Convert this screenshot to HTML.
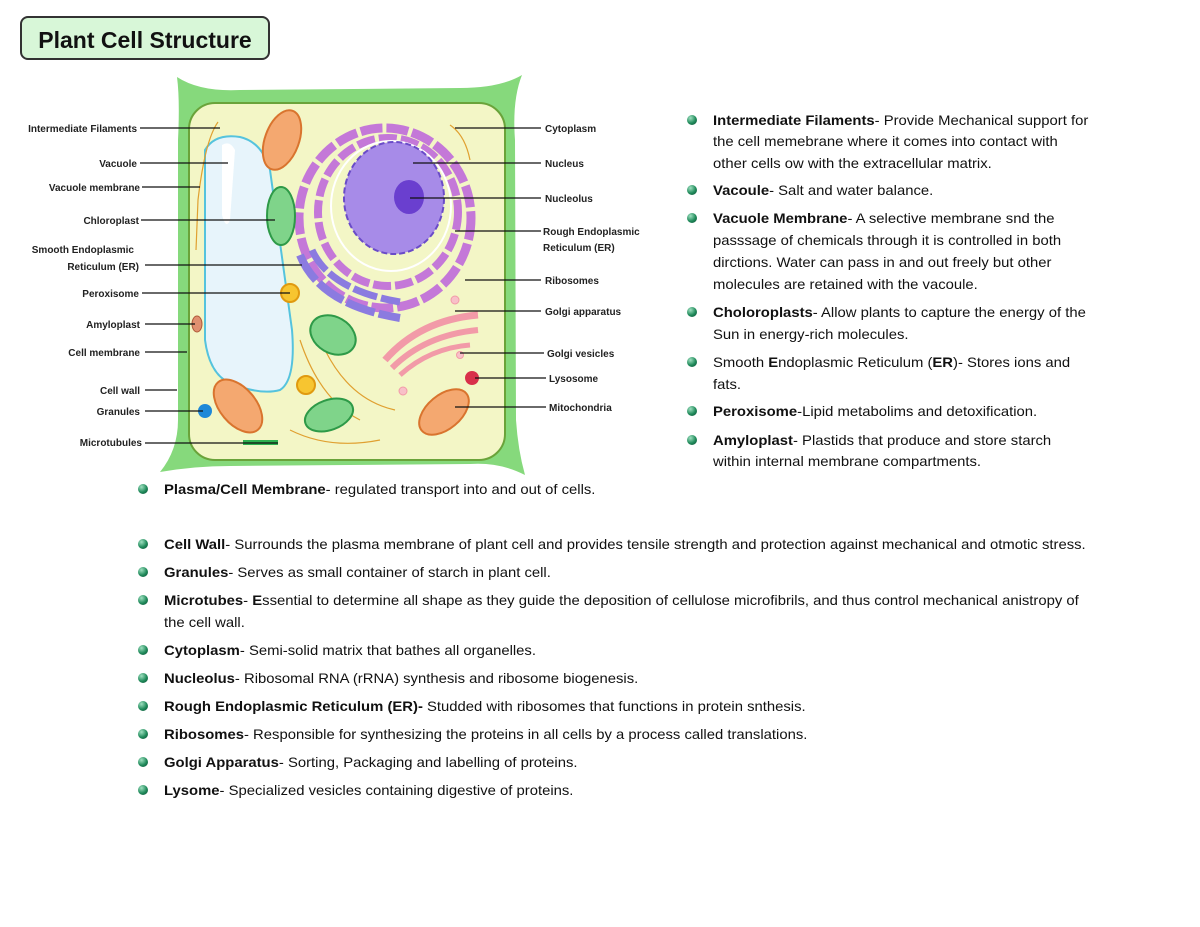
<!DOCTYPE html>
<html><head><meta charset="utf-8"><style>
body{margin:0;width:1200px;height:927px;background:#fff;position:relative;overflow:hidden;font-family:"Liberation Sans",sans-serif;color:#111}
.t{position:absolute;font-size:14px;line-height:16px;white-space:nowrap;transform:scaleX(1.06);transform-origin:0 0}
.b{position:absolute;width:10px;height:10px;border-radius:50%;background:radial-gradient(circle at 35% 30%,#9fe0c0,#1f8a5a 55%,#0d4a33)}
.title{position:absolute;left:20px;top:16px;width:250px;height:44px;border:2px solid #333;border-radius:8px;background:#d8f7d8;font-weight:bold;font-size:23px;line-height:44px;text-align:center;box-sizing:border-box}
svg text{font-family:"Liberation Sans",sans-serif;font-weight:bold;font-size:10px;fill:#222}
</style></head><body>
<div class="title">Plant Cell Structure</div>
<svg width="1200" height="927" style="position:absolute;left:0;top:0">
<path d="M177 77 Q200 92 240 90 L460 88 Q500 88 522 75 Q512 100 515 140 L516 420 Q518 450 525 475 Q500 462 470 464 L230 466 Q195 466 160 472 Q178 450 178 420 L178 140 Q180 100 177 77Z" fill="#86d97c"/>
<rect x="189" y="103" width="316" height="357" rx="26" fill="#f3f6c6" stroke="#6aa33a" stroke-width="2"/>
<path d="M205 150 Q215 133 240 137 Q262 142 270 170 L292 330 Q296 380 280 390 Q262 395 235 385 Q210 378 205 340 Z" fill="#e7f4fb" stroke="#55c3dd" stroke-width="2"/>
<path d="M222 145 Q230 140 235 150 L230 220 Q226 230 222 215Z" fill="#fff"/>
<path d="M218 122 Q205 140 198 200 L196 250" stroke="#e0a030" fill="none" stroke-width="1.2"/>
<path d="M450 125 Q465 135 470 160" stroke="#e0a030" fill="none" stroke-width="1.2"/>
<path d="M300 340 Q320 400 360 420" stroke="#e0a030" fill="none" stroke-width="1.2"/>
<path d="M325 350 Q350 400 395 410" stroke="#e0a030" fill="none" stroke-width="1.2"/>
<path d="M290 430 Q330 450 380 440" stroke="#e0a030" fill="none" stroke-width="1.2"/>
<ellipse cx="385" cy="218" rx="86" ry="90" fill="none" stroke="#c478d8" stroke-width="9" stroke-dasharray="22 4"/>
<ellipse cx="388" cy="212" rx="70" ry="74" fill="none" stroke="#c478d8" stroke-width="8" stroke-dasharray="18 4"/>
<ellipse cx="391" cy="206" rx="60" ry="65" fill="none" stroke="#fff" stroke-width="2"/>
<ellipse cx="394" cy="198" rx="50" ry="56" fill="#a78be8" stroke="#6a4bc8" stroke-width="2" stroke-dasharray="6 3"/>
<ellipse cx="409" cy="197" rx="15" ry="17" fill="#6a3fcf"/>
<path d="M300 255 Q320 305 400 318" stroke="#8b7be0" stroke-width="8" fill="none" stroke-dasharray="30 4"/>
<path d="M312 250 Q330 290 400 302" stroke="#8b7be0" stroke-width="7" fill="none" stroke-dasharray="25 4"/>
<path d="M385 360 Q420 320 478 315" stroke="#f29aa8" stroke-width="7" fill="none"/>
<path d="M392 368 Q425 335 478 330" stroke="#f29aa8" stroke-width="6" fill="none"/>
<path d="M400 375 Q430 348 470 345" stroke="#f29aa8" stroke-width="5" fill="none"/>
<circle cx="455" cy="300" r="4" fill="#f8c0c8" stroke="#f29aa8"/>
<circle cx="460" cy="355" r="3.5" fill="#f8c0c8" stroke="#f29aa8"/>
<circle cx="403" cy="391" r="4" fill="#f8c0c8" stroke="#f29aa8"/>
<circle cx="472" cy="378" r="7" fill="#d8304a"/>
<ellipse cx="282" cy="140" rx="17" ry="31" transform="rotate(20 282 140)" fill="#f4a870" stroke="#d9742e" stroke-width="2"/>
<ellipse cx="238" cy="406" rx="18" ry="31" transform="rotate(-40 238 406)" fill="#f4a870" stroke="#d9742e" stroke-width="2"/>
<ellipse cx="444" cy="412" rx="17" ry="29" transform="rotate(50 444 412)" fill="#f4a870" stroke="#d9742e" stroke-width="2"/>
<ellipse cx="281" cy="216" rx="14" ry="29" fill="#7fd48a" stroke="#2e9a48" stroke-width="2"/>
<ellipse cx="333" cy="335" rx="24" ry="18" transform="rotate(30 333 335)" fill="#7fd48a" stroke="#2e9a48" stroke-width="2"/>
<ellipse cx="329" cy="415" rx="25" ry="15" transform="rotate(-20 329 415)" fill="#7fd48a" stroke="#2e9a48" stroke-width="2"/>
<circle cx="290" cy="293" r="9" fill="#f7c530" stroke="#e09a10" stroke-width="2"/>
<circle cx="306" cy="385" r="9" fill="#f7c530" stroke="#e09a10" stroke-width="2"/>
<ellipse cx="197" cy="324" rx="5" ry="8" fill="#e09070" stroke="#b05a3a"/>
<circle cx="205" cy="411" r="7" fill="#1e88d8"/>
<rect x="243" y="440" width="35" height="5" fill="#2fb050"/>
<g stroke="#111" stroke-width="1.3">
<line x1="140" y1="128" x2="220" y2="128"/><line x1="140" y1="163" x2="228" y2="163"/>
<line x1="142" y1="187" x2="200" y2="187"/><line x1="141" y1="220" x2="275" y2="220"/>
<line x1="145" y1="265" x2="302" y2="265"/><line x1="142" y1="293" x2="290" y2="293"/>
<line x1="145" y1="324" x2="195" y2="324"/><line x1="145" y1="352" x2="187" y2="352"/>
<line x1="145" y1="390" x2="177" y2="390"/><line x1="145" y1="411" x2="203" y2="411"/>
<line x1="145" y1="443" x2="278" y2="443"/>
<line x1="455" y1="128" x2="541" y2="128"/><line x1="413" y1="163" x2="541" y2="163"/>
<line x1="410" y1="198" x2="541" y2="198"/><line x1="455" y1="231" x2="541" y2="231"/>
<line x1="465" y1="280" x2="541" y2="280"/><line x1="455" y1="311" x2="541" y2="311"/>
<line x1="460" y1="353" x2="544" y2="353"/><line x1="475" y1="378" x2="546" y2="378"/>
<line x1="455" y1="407" x2="546" y2="407"/>
</g>
<g text-anchor="end">
<text x="137" y="132">Intermediate Filaments</text><text x="137" y="167">Vacuole</text>
<text x="140" y="191">Vacuole membrane</text><text x="139" y="224">Chloroplast</text>
<text x="134" y="253">Smooth Endoplasmic</text><text x="139" y="270">Reticulum (ER)</text>
<text x="139" y="297">Peroxisome</text><text x="140" y="328">Amyloplast</text>
<text x="140" y="356">Cell membrane</text><text x="140" y="394">Cell wall</text>
<text x="140" y="415">Granules</text><text x="142" y="446">Microtubules</text>
</g>
<text x="545" y="132">Cytoplasm</text><text x="545" y="167">Nucleus</text>
<text x="545" y="202">Nucleolus</text><text x="543" y="235">Rough Endoplasmic</text>
<text x="543" y="251">Reticulum (ER)</text><text x="545" y="284">Ribosomes</text>
<text x="545" y="315">Golgi apparatus</text><text x="547" y="357">Golgi vesicles</text>
<text x="549" y="382">Lysosome</text><text x="549" y="411">Mitochondria</text>
</svg>

<div class="b" style="left:687px;top:115px"></div><div class="t" style="left:713px;top:112px"><b>Intermediate Filaments</b>- Provide Mechanical support for</div>
<div class="t" style="left:713px;top:133px">the cell memebrane where it comes into contact with</div>
<div class="t" style="left:713px;top:155px">other cells ow with the extracellular matrix.</div>
<div class="b" style="left:687px;top:185px"></div><div class="t" style="left:713px;top:182px"><b>Vacoule</b>- Salt and water balance.</div>
<div class="b" style="left:687px;top:213px"></div><div class="t" style="left:713px;top:210px"><b>Vacuole Membrane</b>- A selective membrane snd the</div>
<div class="t" style="left:713px;top:232px">passsage of chemicals through it is controlled in both</div>
<div class="t" style="left:713px;top:254px">dirctions. Water can pass in and out freely but other</div>
<div class="t" style="left:713px;top:276px">molecules are retained with the vacoule.</div>
<div class="b" style="left:687px;top:307px"></div><div class="t" style="left:713px;top:304px"><b>Choloroplasts</b>- Allow plants to capture the energy of the</div>
<div class="t" style="left:713px;top:326px">Sun in energy-rich molecules.</div>
<div class="b" style="left:687px;top:357px"></div><div class="t" style="left:713px;top:354px">Smooth <b>E</b>ndoplasmic Reticulum (<b>ER</b>)- Stores ions and</div>
<div class="t" style="left:713px;top:376px">fats.</div>
<div class="b" style="left:687px;top:406px"></div><div class="t" style="left:713px;top:403px"><b>Peroxisome</b>-Lipid metabolims and detoxification.</div>
<div class="b" style="left:687px;top:435px"></div><div class="t" style="left:713px;top:432px"><b>Amyloplast</b>- Plastids that produce and store starch</div>
<div class="t" style="left:713px;top:453px">within internal membrane compartments.</div>

<div class="b" style="left:138px;top:484px"></div><div class="t" style="left:164px;top:481px"><b>Plasma/Cell Membrane</b>- regulated transport into and out of cells.</div>
<div class="b" style="left:138px;top:539px"></div><div class="t" style="left:164px;top:536px"><b>Cell Wall</b>- Surrounds the plasma membrane of plant cell and provides tensile strength and protection against mechanical and otmotic stress.</div>
<div class="b" style="left:138px;top:567px"></div><div class="t" style="left:164px;top:564px"><b>Granules</b>- Serves as small container of starch in plant cell.</div>
<div class="b" style="left:138px;top:595px"></div><div class="t" style="left:164px;top:592px"><b>Microtubes</b>- <b>E</b>ssential to determine all shape as they guide the deposition of cellulose microfibrils, and thus control mechanical anistropy of</div>
<div class="t" style="left:164px;top:614px">the cell wall.</div>
<div class="b" style="left:138px;top:645px"></div><div class="t" style="left:164px;top:642px"><b>Cytoplasm</b>- Semi-solid matrix that bathes all organelles.</div>
<div class="b" style="left:138px;top:673px"></div><div class="t" style="left:164px;top:670px"><b>Nucleolus</b>- Ribosomal RNA (rRNA) synthesis and ribosome biogenesis.</div>
<div class="b" style="left:138px;top:701px"></div><div class="t" style="left:164px;top:698px"><b>Rough Endoplasmic Reticulum (ER)-</b> Studded with ribosomes that functions in protein snthesis.</div>
<div class="b" style="left:138px;top:729px"></div><div class="t" style="left:164px;top:726px"><b>Ribosomes</b>- Responsible for synthesizing the proteins in all cells by a process called translations.</div>
<div class="b" style="left:138px;top:757px"></div><div class="t" style="left:164px;top:754px"><b>Golgi Apparatus</b>- Sorting, Packaging and labelling of proteins.</div>
<div class="b" style="left:138px;top:785px"></div><div class="t" style="left:164px;top:782px"><b>Lysome</b>- Specialized vesicles containing digestive of proteins.</div>
</body></html>
